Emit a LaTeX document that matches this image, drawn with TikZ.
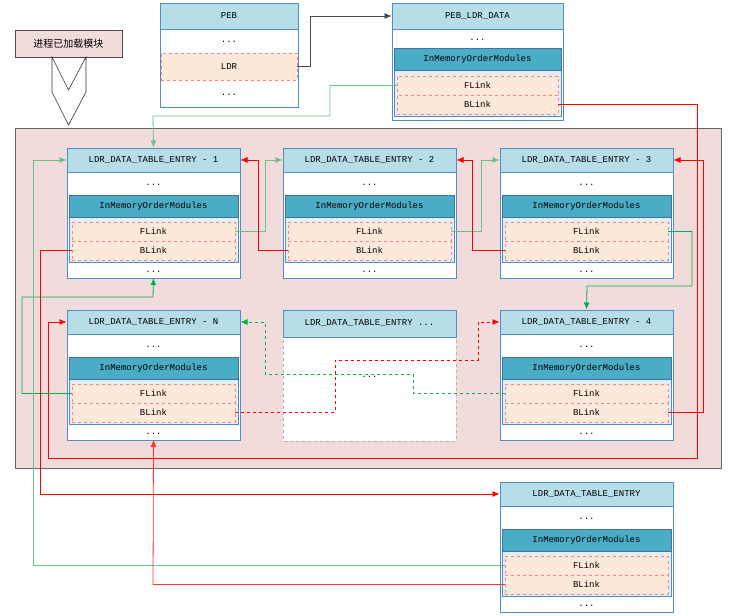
\documentclass[tikz,border=0pt]{standalone}
\usepackage{fontspec}
\setmainfont{Liberation Mono}
\newfontfamily\cjk{Noto Sans CJK SC}
\usetikzlibrary{arrows.meta}
\definecolor{tfill}{HTML}{B7DDE8}
\definecolor{bblue}{HTML}{4F8FC8}
\definecolor{hfill}{HTML}{4BACC6}
\definecolor{lfill}{HTML}{FDE9D9}
\definecolor{pfill}{HTML}{E4ECF4}
\definecolor{bgp}{HTML}{F2DCDB}
\definecolor{gr}{HTML}{00B050}
\definecolor{lgr}{HTML}{6CC08A}
\definecolor{rd}{HTML}{FF0000}
\tikzset{
 txt/.style={font=\fontsize{9}{10}\selectfont,inner sep=0pt},
 ttl/.style={draw=bblue,fill=tfill,line width=1pt,txt},
 hdr/.style={draw=bblue!80!black,fill=hfill,line width=1pt,txt},
 lnk/.style={draw=rd!50,dashed,fill=lfill,txt},
 con/.style={line width=0.8pt,-{Latex[length=7pt,width=6pt]}},
}
\newcommand\ent[4]{%
 \draw[bblue,line width=1pt,fill=white] (#2,#3) rectangle (#2+173,#3+130);
 \node[ttl,minimum width=173pt,minimum height=24pt] (#1t) at (#2+86.5,#3+12) {#4};
 \node[txt] (#1d) at (#2+86.5,#3+37) {...};
 \draw[bblue,line width=1pt,fill=pfill] (#2+2,#3+69) rectangle (#2+171,#3+114);
 \node[hdr,minimum width=169pt,minimum height=22pt] (#1h) at (#2+86.5,#3+58) {InMemoryOrderModules};
 \node[lnk,minimum width=163pt,minimum height=19pt] (#1f) at (#2+86.5,#3+83.5) {FLink};
 \node[lnk,minimum width=163pt,minimum height=19pt] (#1b) at (#2+86.5,#3+102.5) {BLink};
 \node[txt] (#1e) at (#2+86.5,#3+124) {...};
 \coordinate (#1s) at (#2+86.5,#3+130);
}
\begin{document}
\begin{tikzpicture}[x=1pt,y=-1pt]
\useasboundingbox (0,0) rectangle (729,616);
\fill[white] (0,0) rectangle (729,616);
% label + chevron
\node[draw=black!70,fill=bgp,minimum width=107pt,minimum height=27pt,inner sep=0pt,font=\cjk\fontsize{10}{12}\selectfont] (lab) at (68.5,43.5) {进程已加载模块};
\draw[black!80,line width=0.6pt] (52,57) -- (52,92) -- (68.5,125) -- (86,92) -- (86,57) -- (68.5,90) -- cycle;
% background
\node[draw=black!60,fill=bgp,line width=1pt,minimum width=706pt,minimum height=340pt,inner sep=0pt] (bg) at (368,298) {};
% PEB
\draw[bblue,line width=1pt,fill=white] (160,3) rectangle (298,107);
\node[ttl,minimum width=138pt,minimum height=26pt] (pebt) at (229,16) {PEB};
\node[txt] (pebd1) at (229,42) {...};
\node[lnk,minimum width=136pt,minimum height=27pt] (ldr) at (229,66.5) {LDR};
\node[txt] (pebd2) at (229,95) {...};
% PEB_LDR_DATA
\draw[bblue,line width=1pt,fill=white] (392,3) rectangle (563,120);
\node[ttl,minimum width=171pt,minimum height=26pt] (pldt) at (477.5,16) {PEB\_LDR\_DATA};
\node[txt] (pldd) at (477.5,40) {...};
\draw[bblue,line width=1pt,fill=pfill] (394,70) rectangle (561,116);
\node[hdr,minimum width=167pt,minimum height=22pt] (pldh) at (477.5,59) {InMemoryOrderModules};
\node[lnk,minimum width=161pt,minimum height=19pt] (pldf) at (477.5,85.5) {FLink};
\node[lnk,minimum width=161pt,minimum height=19pt] (pldb) at (477.5,104.5) {BLink};
% entries
\ent{a}{67}{148}{LDR\_DATA\_TABLE\_ENTRY - 1}
\ent{b}{283}{148}{LDR\_DATA\_TABLE\_ENTRY - 2}
\ent{c}{500}{148}{LDR\_DATA\_TABLE\_ENTRY - 3}
\ent{n}{67}{310}{LDR\_DATA\_TABLE\_ENTRY - N}
\ent{d}{500}{310}{LDR\_DATA\_TABLE\_ENTRY - 4}
\ent{z}{500}{482}{LDR\_DATA\_TABLE\_ENTRY}
% middle dotted entry
\draw[black!30,dashed,fill=white] (283,310) rectangle (456,441);
\node[ttl,minimum width=173pt,minimum height=27pt] (mt) at (369.5,323.5) {LDR\_DATA\_TABLE\_ENTRY ...};
\node[txt] (md) at (369.5,377) {...};
% connectors
\draw[con,black!70] (ldr.east) -- (310,66.5) |- (pldt.west);
\draw[con,lgr] (pldf.west) -- (330,85.5) |- (153,116) -- (at.north);
\draw[con,rd] (pldb.east) -- (697,104.5) |- (48,458) |- (nt.west);
\draw[con,rd] (db.east) -- (703,412.5) |- (ct.east);
\draw[con,lgr] (af.east) -- (265,231.5) |- (bt.west);
\draw[con,rd] (bb.west) -- (258,250.5) |- (at.east);
\draw[con,lgr] (bf.east) -- (481,231.5) |- (ct.west);
\draw[con,rd] (cb.west) -- (472,250.5) |- (bt.east);
\draw[con,gr] (cf.east) -- (692,231.5) |- (587,286) -- (dt.north);
\draw[con,gr,dashed] (df.west) -- (413,393.5) |- (265,374) |- (nt.east);
\draw[con,rd,dashed] (nb.east) -- (335,412.5) |- (478,360) |- (dt.west);
\draw[con,gr] (nf.west) -- (22,393.5) |- (153,297) -- (as);
\draw[con,lgr] (zf.west) -- (33,565.5) |- (at.west);
\draw[con,rd] (ab.west) -- (40,250.5) |- (zt.west);
\draw[con,rd!80] (zb.west) -- (153,584.5) -- (ns);
\end{tikzpicture}
\end{document}
